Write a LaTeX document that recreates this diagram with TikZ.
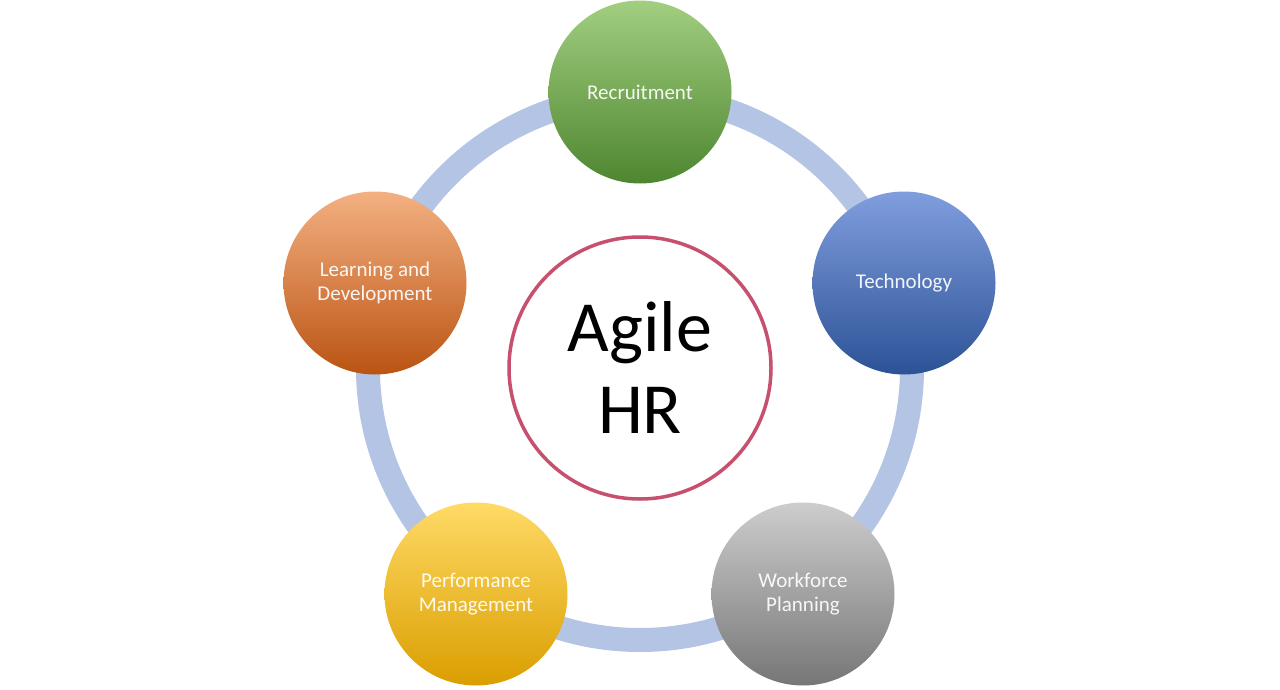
\documentclass[tikz,border=0pt]{standalone}
\usepackage{fontspec}
\setmainfont{Carlito}
\definecolor{ringc}{RGB}{180,196,228}
\definecolor{hubc}{RGB}{198,80,110}
\definecolor{gtop}{RGB}{162,206,128}
\definecolor{gmid}{RGB}{112,173,71}
\definecolor{gbot}{RGB}{78,134,48}
\definecolor{btop}{RGB}{128,158,222}
\definecolor{bmid}{RGB}{70,114,196}
\definecolor{bbot}{RGB}{44,82,150}
\definecolor{wtop}{RGB}{205,205,205}
\definecolor{wmid}{RGB}{165,165,165}
\definecolor{wbot}{RGB}{118,118,118}
\definecolor{ytop}{RGB}{255,218,102}
\definecolor{ymid}{RGB}{255,192,0}
\definecolor{ybot}{RGB}{218,158,0}
\definecolor{otop}{RGB}{244,176,130}
\definecolor{omid}{RGB}{237,125,49}
\definecolor{obot}{RGB}{186,84,18}
\begin{document}
\begin{tikzpicture}[x=1pt,y=-1pt,
  item/.style={circle,minimum size=183pt,inner sep=0pt,align=center,
    font=\fontsize{21}{24}\selectfont,text=white,text opacity=0.92},
  hub/.style={circle,minimum size=262pt,inner sep=0pt,align=center,
    fill=white,draw=hubc,line width=3.5pt,font=\fontsize{72}{82}\selectfont}]
\useasboundingbox (0,0) rectangle (1280,690);
\fill[white] (0,0) rectangle (1280,690);
\coordinate (c) at (640,368);
\draw[ringc,line width=24pt] (c) circle[radius=272];
\node[hub] (hr) at (c) {Agile\\HR};
\node[item,top color=gtop,middle color=gmid,bottom color=gbot] (rec) at (640,92) {Recruitment};
\node[item,top color=btop,middle color=bmid,bottom color=bbot] (tech) at (904,283) {Technology};
\node[item,top color=wtop,middle color=wmid,bottom color=wbot] (wf) at (803,594) {Workforce\\Planning};
\node[item,top color=ytop,middle color=ymid,bottom color=ybot] (pm) at (476,594) {Performance\\Management};
\node[item,top color=otop,middle color=omid,bottom color=obot] (ld) at (375,283) {Learning and\\Development};
\end{tikzpicture}
\end{document}
